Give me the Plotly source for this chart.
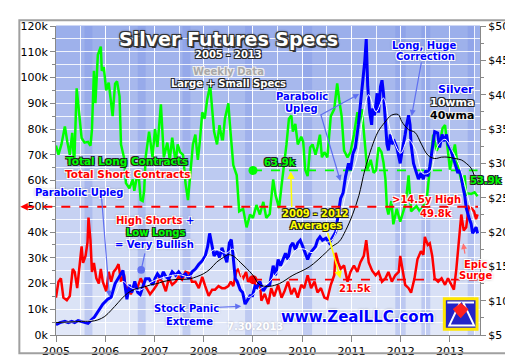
import plotly.graph_objects as go

# ---------------- data ----------------
long_year = [2005.00, 2005.05, 2005.11, 2005.18, 2005.23, 2005.28, 2005.33, 2005.37, 2005.42, 2005.46,
             2005.52, 2005.58, 2005.65, 2005.70, 2005.73, 2005.77, 2005.80, 2005.85, 2005.91, 2005.93,
             2005.97, 2006.02, 2006.07, 2006.12, 2006.15, 2006.20, 2006.24, 2006.29, 2006.32, 2006.38,
             2006.42, 2006.49, 2006.56, 2006.59, 2006.63, 2006.67, 2006.72, 2006.76, 2006.79, 2006.82,
             2006.89, 2006.96, 2007.01, 2007.06, 2007.13, 2007.19, 2007.26, 2007.31, 2007.36, 2007.43,
             2007.47, 2007.52, 2007.58, 2007.63, 2007.68, 2007.73, 2007.78, 2007.83, 2007.88, 2007.92,
             2007.97, 2008.02, 2008.07, 2008.13, 2008.17, 2008.21, 2008.27, 2008.32, 2008.37, 2008.39,
             2008.43, 2008.50, 2008.53, 2008.57, 2008.60, 2008.67, 2008.72, 2008.80, 2008.87, 2008.94,
             2009.00, 2009.07, 2009.14, 2009.21, 2009.27, 2009.34, 2009.41, 2009.46, 2009.53, 2009.58,
             2009.62, 2009.68, 2009.73, 2009.78, 2009.81, 2009.86, 2009.91, 2009.98, 2010.02, 2010.06,
             2010.11, 2010.16, 2010.21, 2010.27, 2010.31, 2010.36, 2010.40, 2010.45, 2010.51, 2010.58,
             2010.65, 2010.71, 2010.75, 2010.80, 2010.85, 2010.92, 2010.98, 2011.05, 2011.12, 2011.15,
             2011.21, 2011.25, 2011.32, 2011.39, 2011.45, 2011.50, 2011.55, 2011.61, 2011.65, 2011.69,
             2011.72, 2011.75, 2011.81, 2011.85, 2011.92, 2011.99, 2012.06, 2012.10, 2012.16, 2012.21,
             2012.26, 2012.32, 2012.39, 2012.46, 2012.53, 2012.59, 2012.66, 2012.73, 2012.79, 2012.85,
             2012.90, 2012.95, 2013.00, 2013.05, 2013.10, 2013.15, 2013.20, 2013.24, 2013.30, 2013.33,
             2013.36, 2013.43, 2013.50, 2013.56]
long_k = [73.6, 70, 74, 81, 75, 70, 78.5, 66, 95.8, 89,
          76.5, 74.7, 75, 73.5, 79.6, 102.6, 90, 108.8, 112, 102.6,
          104, 95, 98, 90, 85, 97.6, 98.5, 92.7, 74, 69,
          59, 57, 60.4, 56, 60, 64, 52.4, 52, 56, 69,
          79, 69, 80, 73, 89.6, 69, 74.7, 68, 76.6, 67,
          74, 71, 70, 59, 52.4, 63, 74, 77.8, 68, 75,
          86.5, 84, 91.4, 97, 89, 79, 74, 81.5, 76, 76,
          84, 90, 82, 74, 66, 62, 48, 49, 41.8, 46.8,
          45.5, 50.5, 46.8, 51.7, 45.5, 47, 60.4, 54.2, 49.3, 58,
          64.2, 74, 84, 85.2, 79, 82, 74, 77, 75, 64.2,
          61.7, 72.8, 74, 70, 73, 77.8, 69, 71, 69, 85,
          87.7, 97.7, 91.4, 85, 71.6, 69, 71, 77.8, 86.5, 82,
          87.7, 79, 64.2, 68, 63, 64, 72.9, 71, 67, 60.4,
          49.3, 46.8, 52, 43, 49, 44, 48, 51, 62, 48,
          49, 50, 48, 50, 53, 64.2, 77.8, 71.6, 74, 80.3,
          81.5, 73, 64.2, 69, 74, 66.6, 61.7, 59.2, 62, 54.2,
          55, 54.8, 55.4, 53.9]

short_year = [2005.00, 2005.05, 2005.10, 2005.15, 2005.22, 2005.28, 2005.34, 2005.38, 2005.43, 2005.48,
              2005.52, 2005.55, 2005.60, 2005.64, 2005.66, 2005.70, 2005.73, 2005.77, 2005.82, 2005.87,
              2005.91, 2005.95, 2006.02, 2006.07, 2006.12, 2006.17, 2006.22, 2006.27, 2006.32, 2006.38,
              2006.42, 2006.47, 2006.52, 2006.59, 2006.66, 2006.72, 2006.78, 2006.84, 2006.91, 2006.98,
              2007.05, 2007.09, 2007.16, 2007.23, 2007.29, 2007.36, 2007.43, 2007.49, 2007.56, 2007.63,
              2007.70, 2007.76, 2007.83, 2007.90, 2007.97, 2008.03, 2008.10, 2008.17, 2008.23, 2008.30,
              2008.37, 2008.43, 2008.50, 2008.55, 2008.60, 2008.66, 2008.70, 2008.75, 2008.80, 2008.86,
              2008.90, 2008.95, 2009.00, 2009.07, 2009.14, 2009.17, 2009.24, 2009.31, 2009.37, 2009.43,
              2009.51, 2009.58, 2009.64, 2009.71, 2009.78, 2009.84, 2009.91, 2009.98, 2010.04, 2010.11,
              2010.18, 2010.25, 2010.31, 2010.38, 2010.45, 2010.51, 2010.58, 2010.65, 2010.68, 2010.73,
              2010.78, 2010.85, 2010.92, 2010.98, 2011.05, 2011.12, 2011.18, 2011.25, 2011.30, 2011.35,
              2011.42, 2011.49, 2011.55, 2011.62, 2011.69, 2011.75, 2011.82, 2011.89, 2011.96, 2011.99,
              2012.04, 2012.09, 2012.16, 2012.21, 2012.28, 2012.34, 2012.41, 2012.46, 2012.49, 2012.55,
              2012.59, 2012.64, 2012.69, 2012.76, 2012.83, 2012.90, 2012.96, 2013.02, 2013.08, 2013.13,
              2013.18, 2013.23, 2013.28, 2013.33, 2013.38, 2013.43, 2013.49, 2013.53, 2013.56]
short_k = [14.5, 20.7, 22, 14.5, 13.5, 15.1, 25.7, 24.5, 18.2, 28.2,
           34.4, 28, 30.7, 36, 45.6, 36.8, 24.5, 28, 22, 20,
           25.7, 20.7, 17, 24.5, 20.7, 24.5, 25.7, 27.5, 20.7, 23.5,
           17.5, 18.5, 15.8, 19.5, 18.8, 22, 19.5, 18.2, 15.8, 17.6,
           19.5, 22, 20.7, 17, 22, 19.5, 20.7, 22.6, 21.5, 24.5,
           24, 20.7, 20.7, 18.2, 22.6, 19, 15.2, 17.6, 17.6, 19,
           18.2, 18.2, 19, 20.7, 19, 24.5, 25.7, 23.2, 22, 24.5,
           20.7, 22, 21.2, 18.8, 20.7, 13.3, 16, 12, 18.2, 15,
           19.5, 14.5, 17, 20.7, 15.8, 18.2, 14.5, 19.5, 18.2, 23.2,
           18.2, 20.7, 16.5, 18.2, 14.5, 14, 19.5, 23.2, 31.9, 28.2,
           25.7, 27, 20.7, 24.5, 27, 24.5, 28.2, 30.7, 36.8, 28.2,
           25, 23.2, 24.5, 20.7, 22, 24.5, 20.7, 23.2, 24.5, 30.7,
           25.7, 19.5, 18.2, 16.4, 22, 29.4, 32.5, 31.2, 38.1, 35,
           35.6, 30.7, 22, 20.7, 22, 19.5, 22, 19.5, 17.6, 25.7,
           35.6, 46.8, 40.6, 41.8, 49.8, 49.3, 48, 45, 46.8]

silver_year = [2005.00, 2005.08, 2005.18, 2005.25, 2005.32, 2005.38, 2005.45, 2005.55, 2005.65, 2005.72,
               2005.78, 2005.87, 2005.95, 2006.05, 2006.12, 2006.20, 2006.26, 2006.31, 2006.36, 2006.40,
               2006.44, 2006.49, 2006.54, 2006.60, 2006.66, 2006.71, 2006.76, 2006.82, 2006.89, 2006.96,
               2007.01, 2007.06, 2007.13, 2007.18, 2007.23, 2007.29, 2007.36, 2007.43, 2007.49, 2007.56,
               2007.63, 2007.70, 2007.76, 2007.83, 2007.90, 2007.97, 2008.03, 2008.08, 2008.12, 2008.17,
               2008.21, 2008.27, 2008.32, 2008.37, 2008.41, 2008.47, 2008.52, 2008.56, 2008.59, 2008.64,
               2008.68, 2008.74, 2008.79, 2008.84, 2008.88, 2008.94, 2008.99, 2009.04, 2009.08, 2009.14,
               2009.21, 2009.27, 2009.34, 2009.41, 2009.46, 2009.51, 2009.56, 2009.61, 2009.66, 2009.71,
               2009.76, 2009.81, 2009.86, 2009.91, 2009.96, 2010.01, 2010.06, 2010.11, 2010.16, 2010.21,
               2010.27, 2010.31, 2010.36, 2010.41, 2010.48, 2010.55, 2010.61, 2010.68, 2010.73, 2010.78,
               2010.83, 2010.88, 2010.94, 2010.98, 2011.03, 2011.08, 2011.14, 2011.19, 2011.23, 2011.27,
               2011.30, 2011.33, 2011.37, 2011.41, 2011.43, 2011.47, 2011.52, 2011.55, 2011.59, 2011.62,
               2011.65, 2011.69, 2011.72, 2011.75, 2011.79, 2011.82, 2011.87, 2011.92, 2011.96, 2011.99,
               2012.02, 2012.06, 2012.09, 2012.12, 2012.16, 2012.19, 2012.21, 2012.26, 2012.31, 2012.36,
               2012.41, 2012.46, 2012.51, 2012.55, 2012.59, 2012.64, 2012.69, 2012.75, 2012.79, 2012.84,
               2012.88, 2012.93, 2012.96, 2013.02, 2013.06, 2013.11, 2013.16, 2013.20, 2013.23, 2013.26,
               2013.30, 2013.33, 2013.36, 2013.39, 2013.43, 2013.46, 2013.50, 2013.53, 2013.56]
silver_usd = [6.5, 6.8, 7.0, 6.8, 7.0, 6.8, 7.1, 6.9, 6.7, 7.2,
              7.6, 8.6, 9.5, 10.2, 10.5, 12.5, 13.2, 13.9, 14.4, 12.3,
              10.2, 12.3, 11.2, 12.8, 11.2, 10.9, 12.0, 13.2, 13.2, 12.3,
              13.2, 13.9, 13.2, 14.2, 13.5, 13.2, 14.2, 13.7, 14.2, 13.5,
              13.9, 13.2, 14.2, 14.6, 15.3, 15.8, 16.5, 17.9, 19.8, 18.1,
              16.5, 17.2, 16.3, 17.7, 16.8, 15.6, 18.4, 18.9, 17.0, 13.2,
              12.8, 11.6, 11.2, 9.5, 10.0, 10.7, 10.7, 12.1, 11.9, 12.8,
              11.4, 12.1, 12.3, 15.1, 13.7, 16.0, 15.1, 16.0, 16.9, 16.0,
              17.9, 18.4, 17.4, 18.4, 18.8, 17.9, 16.9, 16.0, 16.9, 17.4,
              17.9, 18.8, 19.3, 18.8, 19.1, 18.4, 19.1, 20.0, 22.5, 24.9,
              25.7, 28.1, 30.0, 29.0, 31.4, 32.3, 35.6, 39.3, 41.2, 44.9,
              48.1, 41.2, 37.4, 35.6, 38.0, 37.0, 40.2, 37.4, 41.2, 42.1,
              40.2, 36.5, 32.8, 31.9, 34.2, 32.8, 33.2, 32.3, 30.9, 30.0,
              31.4, 32.8, 34.2, 35.6, 37.0, 35.6, 32.8, 30.0, 29.0, 27.7,
              28.6, 27.7, 29.0, 28.1, 29.5, 31.9, 34.6, 34.4, 32.3, 34.2,
              33.2, 34.2, 32.8, 31.9, 30.9, 30.0, 28.6, 29.0, 28.1, 26.7,
              25.3, 23.5, 22.5, 22.0, 21.2, 19.8, 20.3, 20.7, 19.8]

wma10_year = [2005.00, 2005.50, 2005.80, 2006.00, 2006.20, 2006.35, 2006.50, 2006.70, 2006.90, 2007.10,
              2007.30, 2007.50, 2007.70, 2007.90, 2008.10, 2008.25, 2008.45, 2008.60, 2008.75, 2008.90,
              2009.10, 2009.30, 2009.50, 2009.70, 2009.90, 2010.05, 2010.20, 2010.40, 2010.60, 2010.75,
              2010.95, 2011.10, 2011.25, 2011.35, 2011.50, 2011.65, 2011.80, 2012.00, 2012.15, 2012.30,
              2012.45, 2012.60, 2012.75, 2012.90, 2013.05, 2013.20, 2013.35, 2013.50, 2013.56]
wma10_usd = [6.8, 7.0, 7.3, 8.8, 10.8, 12.8, 12.0, 11.5, 12.6, 13.2,
             13.6, 13.8, 13.5, 14.5, 16.8, 17.5, 16.9, 17.5, 14.0, 10.5,
             11.5, 12.5, 14.2, 15.8, 17.5, 17.5, 17.0, 18.3, 18.8, 21.5,
             27.5, 30.5, 37.5, 40.0, 37.5, 39.5, 34.5, 31.5, 33.5, 32.0,
             28.5, 28.8, 32.5, 33.5, 31.8, 29.5, 25.5, 21.5, 20.8]

wma40_year = [2005.00, 2005.60, 2005.72, 2005.85, 2005.99, 2006.12, 2006.26, 2006.39, 2006.52, 2006.66,
              2006.79, 2006.92, 2007.06, 2007.19, 2007.33, 2007.46, 2007.59, 2007.73, 2007.86, 2007.99,
              2008.13, 2008.26, 2008.40, 2008.50, 2008.60, 2008.74, 2008.87, 2009.00, 2009.14, 2009.34,
              2009.54, 2009.81, 2010.14, 2010.48, 2010.61, 2010.75, 2010.88, 2011.02, 2011.15, 2011.27,
              2011.41, 2011.54, 2011.68, 2011.81, 2011.95, 2012.02, 2012.16, 2012.29, 2012.42, 2012.55,
              2012.69, 2012.83, 2012.96, 2013.10, 2013.23, 2013.33, 2013.43, 2013.50, 2013.56]
wma40_usd = [6.8, 7.0, 7.0, 7.2, 7.7, 8.6, 9.7, 10.7, 11.4, 11.8,
             12.0, 12.3, 12.5, 12.8, 13.0, 13.1, 13.1, 13.2, 13.5, 13.9,
             14.6, 15.6, 16.3, 16.7, 16.5, 15.6, 14.7, 13.7, 12.3, 12.1,
             12.5, 13.7, 14.9, 17.0, 17.9, 18.6, 20.2, 22.5, 25.3, 29.0,
             32.3, 34.6, 36.0, 37.0, 37.1, 36.1, 34.9, 34.5, 32.8, 31.2,
             30.7, 30.9, 30.9, 30.7, 30.5, 30.0, 29.3, 28.1, 27.0]

avg_long_k = 63.9
avg_short_k = 21.5
high_short_k = 49.8
last_long_k = 53.9
avg_start = 2009.0
data_end = 2013.56

shade_periods = [(2005.58, 2005.74), (2006.66, 2006.82), (2007.57, 2007.73), (2008.84, 2009.00),
                 (2010.00, 2010.20), (2011.89, 2012.10), (2012.42, 2012.60), (2013.36, 2013.50)]
year_ticks = list(range(2005, 2014))
k_range = [0, 120]
usd_range = [5, 50]
x_range = [2005.0, 2013.61]

# ---------------- layout helpers (pixel -> paper) ----------------
W, H = 513, 362
ML, MR, MT, MB = 44, 41, 13, 26
PW, PH = W - ML - MR, H - MT - MB


def P(x):
    return (x - ML) / PW


def Q(y):
    return (H - MB - y) / PH


FONT = "DejaVu Sans"
SH_DARK = "1px 1px 0 #222, -1px -1px 0 #222, 1px -1px 0 #222, -1px 1px 0 #222"
SH_LIGHT = "1px 1px 0 #fff, -1px -1px 0 #fff, 1px -1px 0 #fff, -1px 1px 0 #fff, 0 0 3px #555"
SH_GREY = "1px 1px 0 #eee, -1px -1px 0 #eee, 1px -1px 0 #eee, -1px 1px 0 #eee"

fig = go.Figure()

fig.add_trace(go.Scatter(x=long_year, y=long_k, mode="lines", line=dict(color="#00ff00", width=2.5)))
fig.add_trace(go.Scatter(x=short_year, y=short_k, mode="lines", line=dict(color="#ff0000", width=2.5)))

# average / high lines
fig.add_trace(go.Scatter(x=[avg_start, data_end], y=[avg_long_k, avg_long_k], mode="lines",
                         line=dict(color="#00ff00", width=1.8, dash="dash")))
fig.add_trace(go.Scatter(x=[avg_start, data_end], y=[avg_short_k, avg_short_k], mode="lines",
                         line=dict(color="#ff0000", width=1.8, dash="dash")))
fig.add_trace(go.Scatter(x=[avg_start], y=[avg_long_k], mode="markers",
                         marker=dict(color="#00ff00", size=9)))
fig.add_trace(go.Scatter(x=[avg_start], y=[avg_short_k], mode="markers",
                         marker=dict(color="#ff0000", size=9)))

fig.add_trace(go.Scatter(x=silver_year, y=silver_usd, mode="lines", yaxis="y2",
                         line=dict(color="#0000ff", width=3)))
fig.add_trace(go.Scatter(x=wma10_year, y=wma10_usd, mode="lines", yaxis="y2",
                         line=dict(color="white", width=1, shape="spline")))
fig.add_trace(go.Scatter(x=wma40_year, y=wma40_usd, mode="lines", yaxis="y2",
                         line=dict(color="black", width=1, shape="spline")))

shapes = []
# gradient background
n = 24
top, bot = (155, 175, 235), (226, 232, 248)
for i in range(n):
    t = i / (n - 1)
    c = tuple(int(bot[j] + (top[j] - bot[j]) * t) for j in range(3))
    shapes.append(dict(type="rect", xref="paper", yref="paper", x0=0, x1=1,
                       y0=i / n, y1=(i + 1) / n + 0.002, line=dict(width=0),
                       fillcolor="rgb(%d,%d,%d)" % c, layer="below"))
for a, b in shade_periods:
    shapes.append(dict(type="rect", xref="x", yref="paper", x0=a, x1=b, y0=0, y1=1,
                       line=dict(width=0), fillcolor="rgba(115,140,228,0.30)", layer="below"))
# 14.5y high dashed line, extends left past the axis
shapes.append(dict(type="line", xref="paper", yref="paper", x0=P(13), x1=P(470),
                   y0=high_short_k / k_range[1], y1=high_short_k / k_range[1],
                   line=dict(color="#ff0000", width=1.8, dash="dash")))
# outer frame
shapes.append(dict(type="rect", xref="paper", yref="paper", x0=P(7), x1=P(507), y0=Q(355), y1=Q(7),
                   line=dict(color="#a0a0a0", width=2)))
# logo
shapes.append(dict(type="rect", xref="paper", yref="paper", x0=P(436), x1=P(469), y0=Q(330), y1=Q(298),
                   line=dict(color="#ffe600", width=3), fillcolor="#2424c8"))
shapes.append(dict(type="path", xref="paper", yref="paper",
                   path="M %f %f L %f %f L %f %f L %f %f L %f %f L %f %f" % (
                       P(439), Q(302), P(452), Q(302), P(441), Q(326), P(466), Q(326), P(455), Q(302), P(466), Q(302)),
                   line=dict(color="white", width=2)))
shapes.append(dict(type="path", xref="paper", yref="paper",
                   path="M %f %f L %f %f L %f %f L %f %f Z" % (
                       P(452.5), Q(318), P(445), Q(309), P(452.5), Q(303), P(460), Q(309)),
                   line=dict(color="#ff2020", width=1), fillcolor="#ff2020"))

ann = []


def txt(x, y, s, color, size=10, shadow=SH_DARK, weight="bold", anchor="center"):
    ann.append(dict(x=P(x), y=Q(y), xref="paper", yref="paper", text=s, showarrow=False,
                    xanchor=anchor, yanchor="middle",
                    font=dict(family=FONT, size=size, color=color, weight=weight, shadow=shadow)))


def arrow(hx, hy, tx, ty, color, head=2, width=1.2, size=1):
    ann.append(dict(x=P(hx), y=Q(hy), xref="paper", yref="paper", ax=tx - hx, ay=ty - hy,
                    text="", showarrow=True, arrowhead=head, arrowcolor=color,
                    arrowwidth=width, arrowsize=size))


txt(218, 27, "Silver Futures Specs", "white", 19, "2px 2px 0 #333, -1px -1px 0 #333, 1px -1px 0 #333, -1px 1px 0 #333, 0 0 3px #000")
txt(218, 43, "2005 - 2013", "white", 10)
txt(218, 61, "Weekly Data", "#a8a8a8", 10, SH_GREY)
txt(218, 73, "Large + Small Specs", "white", 10)
txt(116, 154, "Total Long Contracts", "#00ff00", 10.5)
txt(117, 168, "Total Short Contracts", "#ff0000", 10.5, SH_LIGHT)
txt(67, 187, "Parabolic Upleg", "#0000ff", 10, SH_LIGHT)
arrow(98, 296, 90, 196, "#6070f0")
txt(144, 216, "High Shorts <span style='color:#0000ff'>+</span>", "#ff0000", 10, SH_LIGHT)
txt(144, 229, "Low Longs", "#00ff00", 10)
txt(143, 241, "= Very Bullish", "#0000ff", 10, SH_LIGHT)
arrow(130, 268, 134, 250, "#6070f0", head=6, size=1.6)
txt(176, 308, "Stock Panic", "#0000ff", 10, SH_LIGHT)
txt(179, 322, "Extreme", "#0000ff", 10, SH_LIGHT)
arrow(231, 306, 207, 307, "#6070f0")
txt(245, 327, "7.30.2013", "white", 10, "0 0 2px #aab")
txt(348, 317, "www.ZealLLC.com", "#0000ff", 15, SH_LIGHT)
txt(292, 87, "Parabolic", "#0000ff", 10, SH_LIGHT)
txt(292, 99, "Upleg", "#0000ff", 10, SH_LIGHT)
arrow(350, 84, 310, 106, "#6070f0")
arrow(331, 175, 311, 107, "#6070f0")
txt(415, 33, "Long, Huge", "#0000ff", 10, SH_LIGHT)
txt(417, 45, "Correction", "#0000ff", 10, SH_LIGHT)
arrow(403, 107, 413, 52, "#6070f0")
txt(468, 79, "Silver", "#0000ff", 11, SH_LIGHT, anchor="right")
txt(468, 93, "10wma", "white", 11, SH_DARK, anchor="right")
txt(468, 107, "40wma", "black", 11, SH_GREY, anchor="right")
txt(270, 156, "63.9k", "#00ff00", 10)
txt(478, 174, "53.9k", "#00ff00", 10)
arrow(281, 165, 282, 202, "#ffff00", width=1.5)
txt(306, 209, "2009 - 2012", "#ffff00", 10)
txt(306, 222, "Averages", "#ffff00", 10)
arrow(331, 277, 318, 230, "#ffff00", width=1.5)
txt(418, 194, ">14.5y High", "#ff0000", 10, SH_LIGHT)
txt(428, 209, "49.8k", "#ff0000", 10, SH_LIGHT)
txt(346, 287, "21.5k", "#ff0000", 10, SH_LIGHT)
txt(467, 262, "Epic", "#ff0000", 10, SH_LIGHT)
txt(467, 274, "Surge", "#ff0000", 10, SH_LIGHT)
arrow(455, 240, 457, 252, "#ff7070")
arrow(8, 202, 18, 202, "#ff0000", head=2, width=1.5)

axis_font = dict(family=FONT, size=11, color="black")
fig.update_layout(
    width=W, height=H, margin=dict(l=ML, r=MR, t=MT, b=MB),
    paper_bgcolor="white", plot_bgcolor="#c0cdf0", showlegend=False,
    shapes=shapes, annotations=ann,
    xaxis=dict(range=x_range, tickmode="array", tickvals=year_ticks, ticktext=[str(y) for y in year_ticks],
               ticks="outside", ticklen=6, tickcolor="#888", showline=True, linecolor="#888",
               showgrid=True, gridcolor="rgba(255,255,255,0.85)", gridwidth=1, zeroline=False,
               minor=dict(dtick=0.5, showgrid=True, gridcolor="rgba(255,255,255,0.85)"),
               tickfont=axis_font),
    yaxis=dict(range=k_range, dtick=10, ticksuffix="k", ticks="outside", ticklen=5, tickcolor="#888",
               showline=True, linecolor="#888", showgrid=True, gridcolor="rgba(255,255,255,0.85)",
               zeroline=False, tickfont=axis_font,
               minor=dict(dtick=5, showgrid=True, gridcolor="rgba(255,255,255,0.85)",
                          ticks="outside", ticklen=3, tickcolor="#888")),
    yaxis2=dict(range=usd_range, dtick=5, tickprefix="$", overlaying="y", side="right", ticks="outside",
                ticklen=5, tickcolor="#888", showline=True, linecolor="#888", showgrid=False,
                zeroline=False, tickfont=axis_font,
                minor=dict(dtick=2.5, ticks="outside", ticklen=3, tickcolor="#888")),
)

fig.write_html("out.html")
